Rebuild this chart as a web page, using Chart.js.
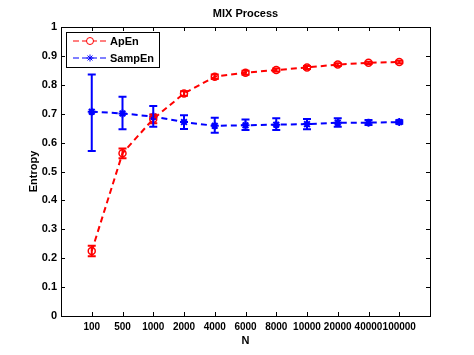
<!DOCTYPE html>
<html><head><meta charset="utf-8">
<script src="https://cdn.jsdelivr.net/npm/chart.js@4/dist/chart.umd.min.js"></script>
<style>html,body{margin:0;padding:0;background:#fff}#wrap{width:474px;height:355px}</style>
</head><body><div id="wrap"><canvas id="c" width="474" height="355"></canvas></div>
<script>
const categories = ["100","500","1000","2000","4000","6000","8000","10000","20000","40000","100000"];
const apenValues = [0.225,0.563,0.682,0.770,0.828,0.842,0.851,0.860,0.870,0.876,0.879];
const apenErr = [0.018,0.017,0.015,0.008,0.008,0.007,0.005,0.005,0.005,0.004,0.004];
const sampenValues = [0.707,0.701,0.690,0.671,0.658,0.660,0.662,0.664,0.669,0.669,0.671];
const sampenLow = [0.571,0.646,0.655,0.647,0.634,0.644,0.644,0.646,0.655,0.661,0.665];
const sampenHigh = [0.836,0.759,0.727,0.695,0.686,0.680,0.684,0.682,0.684,0.678,0.677];
const yTicks = [0,0.1,0.2,0.3,0.4,0.5,0.6,0.7,0.8,0.9,1];
const seriesNames = ["ApEn","SampEn"];

const FONT = "'Liberation Sans', Arial, sans-serif";
const RED = "#ff0000", BLUE = "#0000ff";

const errPlugin = {
  id: 'errbars',
  afterDatasetsDraw(chart) {
    const ctx = chart.ctx, xs = chart.scales.x, ys = chart.scales.y;
    const draw = (i, lo, hi, color) => {
      const x = xs.getPixelForValue(i), y1 = ys.getPixelForValue(lo), y2 = ys.getPixelForValue(hi);
      ctx.save(); ctx.strokeStyle = color; ctx.lineWidth = 2; ctx.setLineDash([]);
      ctx.beginPath();
      ctx.moveTo(x, y1); ctx.lineTo(x, y2);
      ctx.moveTo(x-4, y1); ctx.lineTo(x+4, y1);
      ctx.moveTo(x-4, y2); ctx.lineTo(x+4, y2);
      ctx.stroke(); ctx.restore();
    };
    categories.forEach((c, i) => {
      draw(i, apenValues[i]-apenErr[i], apenValues[i]+apenErr[i], RED);
      draw(i, sampenLow[i], sampenHigh[i], BLUE);
    });
  }
};

const framePlugin = {
  id: 'frame',
  afterDraw(chart) {
    const ctx = chart.ctx, a = chart.chartArea, xs = chart.scales.x, ys = chart.scales.y;
    ctx.save();
    ctx.strokeStyle = '#000'; ctx.lineWidth = 1;
    ctx.strokeRect(Math.round(a.left)+0.5, Math.round(a.top)+0.5, Math.round(a.right-a.left), Math.round(a.bottom-a.top));
    ctx.beginPath();
    categories.forEach((c, i) => {
      const x = Math.round(xs.getPixelForValue(i)) + 0.5;
      ctx.moveTo(x, a.bottom); ctx.lineTo(x, a.bottom-4);
      ctx.moveTo(x, a.top); ctx.lineTo(x, a.top+4);
    });
    yTicks.forEach(v => {
      const y = Math.round(ys.getPixelForValue(v)) + 0.5;
      ctx.moveTo(a.left, y); ctx.lineTo(a.left+4, y);
      ctx.moveTo(a.right, y); ctx.lineTo(a.right-4, y);
    });
    ctx.stroke();
    // title
    ctx.fillStyle = '#000'; ctx.font = 'bold 11px ' + FONT;
    ctx.textAlign = 'center'; ctx.textBaseline = 'middle';
    ctx.fillText('MIX Process', (a.left+a.right)/2, 14);
    // legend
    const lx = a.left + 5, ly = a.top + 5, lw = 93, lh = 35;
    ctx.fillStyle = '#fff'; ctx.fillRect(lx, ly, lw, lh);
    ctx.strokeStyle = '#000'; ctx.lineWidth = 1;
    ctx.strokeRect(lx+0.5, ly+0.5, lw, lh);
    const rows = [{name: seriesNames[0], color: RED, style: 'circle'}, {name: seriesNames[1], color: BLUE, style: 'star'}];
    rows.forEach((r, k) => {
      const cy = ly + 9 + k*17;
      ctx.strokeStyle = r.color; ctx.lineWidth = 1; ctx.setLineDash([6,3]);
      ctx.beginPath(); ctx.moveTo(lx+7, cy); ctx.lineTo(lx+41, cy); ctx.stroke();
      ctx.setLineDash([]);
      Chart.helpers.drawPoint(ctx, {pointStyle: r.style, radius: 3.5, borderWidth: 1}, lx+24, cy);
      ctx.fillStyle = '#000'; ctx.font = 'bold 11px ' + FONT; ctx.textAlign = 'left';
      ctx.fillText(r.name, lx+44, cy+1);
    });
    ctx.restore();
  }
};

new Chart(document.getElementById('c'), {
  type: 'line',
  data: {
    datasets: [
      { label: seriesNames[0], data: apenValues.map((v,i)=>({x:i,y:v})), borderColor: RED, backgroundColor: 'rgba(0,0,0,0)',
        borderWidth: 2, borderDash: [6,4], pointStyle: 'circle', pointRadius: 3.5, pointBorderWidth: 1.5,
        pointBorderColor: RED, pointBackgroundColor: 'rgba(0,0,0,0)', tension: 0 },
      { label: seriesNames[1], data: sampenValues.map((v,i)=>({x:i,y:v})), borderColor: BLUE, backgroundColor: BLUE,
        borderWidth: 2, borderDash: [6,4], pointStyle: 'star', pointRadius: 4, pointBorderWidth: 2,
        pointBorderColor: BLUE, tension: 0 }
    ]
  },
  options: {
    responsive: false, animation: false, devicePixelRatio: 1,
    layout: { padding: { left: 27, right: 44, top: 27, bottom: 0 } },
    plugins: { legend: { display: false }, title: { display: false }, tooltip: { enabled: false } },
    scales: {
      x: {
        type: 'linear', min: -1, max: 11,
        afterBuildTicks: s => { s.ticks = categories.map((c,i)=>({value:i})); },
        afterFit: s => { s.height = 39; },
        ticks: { autoSkip: false, maxRotation: 0, padding: 5, color: '#000', font: { family: FONT, weight: 'bold', size: 10 },
          callback: v => categories[v] },
        grid: { display: false, drawTicks: false },
        border: { display: false },
        title: { display: true, text: 'N', color: '#000', font: { family: FONT, weight: 'bold', size: 11 }, padding: { top: 0, bottom: 7 } }
      },
      y: {
        min: 0, max: 1,
        afterBuildTicks: s => { s.ticks = yTicks.map(v=>({value:v})); },
        afterFit: s => { s.width = 34; },
        ticks: { padding: 4, color: '#000', font: { family: FONT, weight: 'bold', size: 11 }, callback: v => String(v) },
        grid: { display: false, drawTicks: false },
        border: { display: false },
        title: { display: true, text: 'Entropy', color: '#000', font: { family: FONT, weight: 'bold', size: 11 }, padding: 0 }
      }
    }
  },
  plugins: [errPlugin, framePlugin]
});
</script></body></html>
